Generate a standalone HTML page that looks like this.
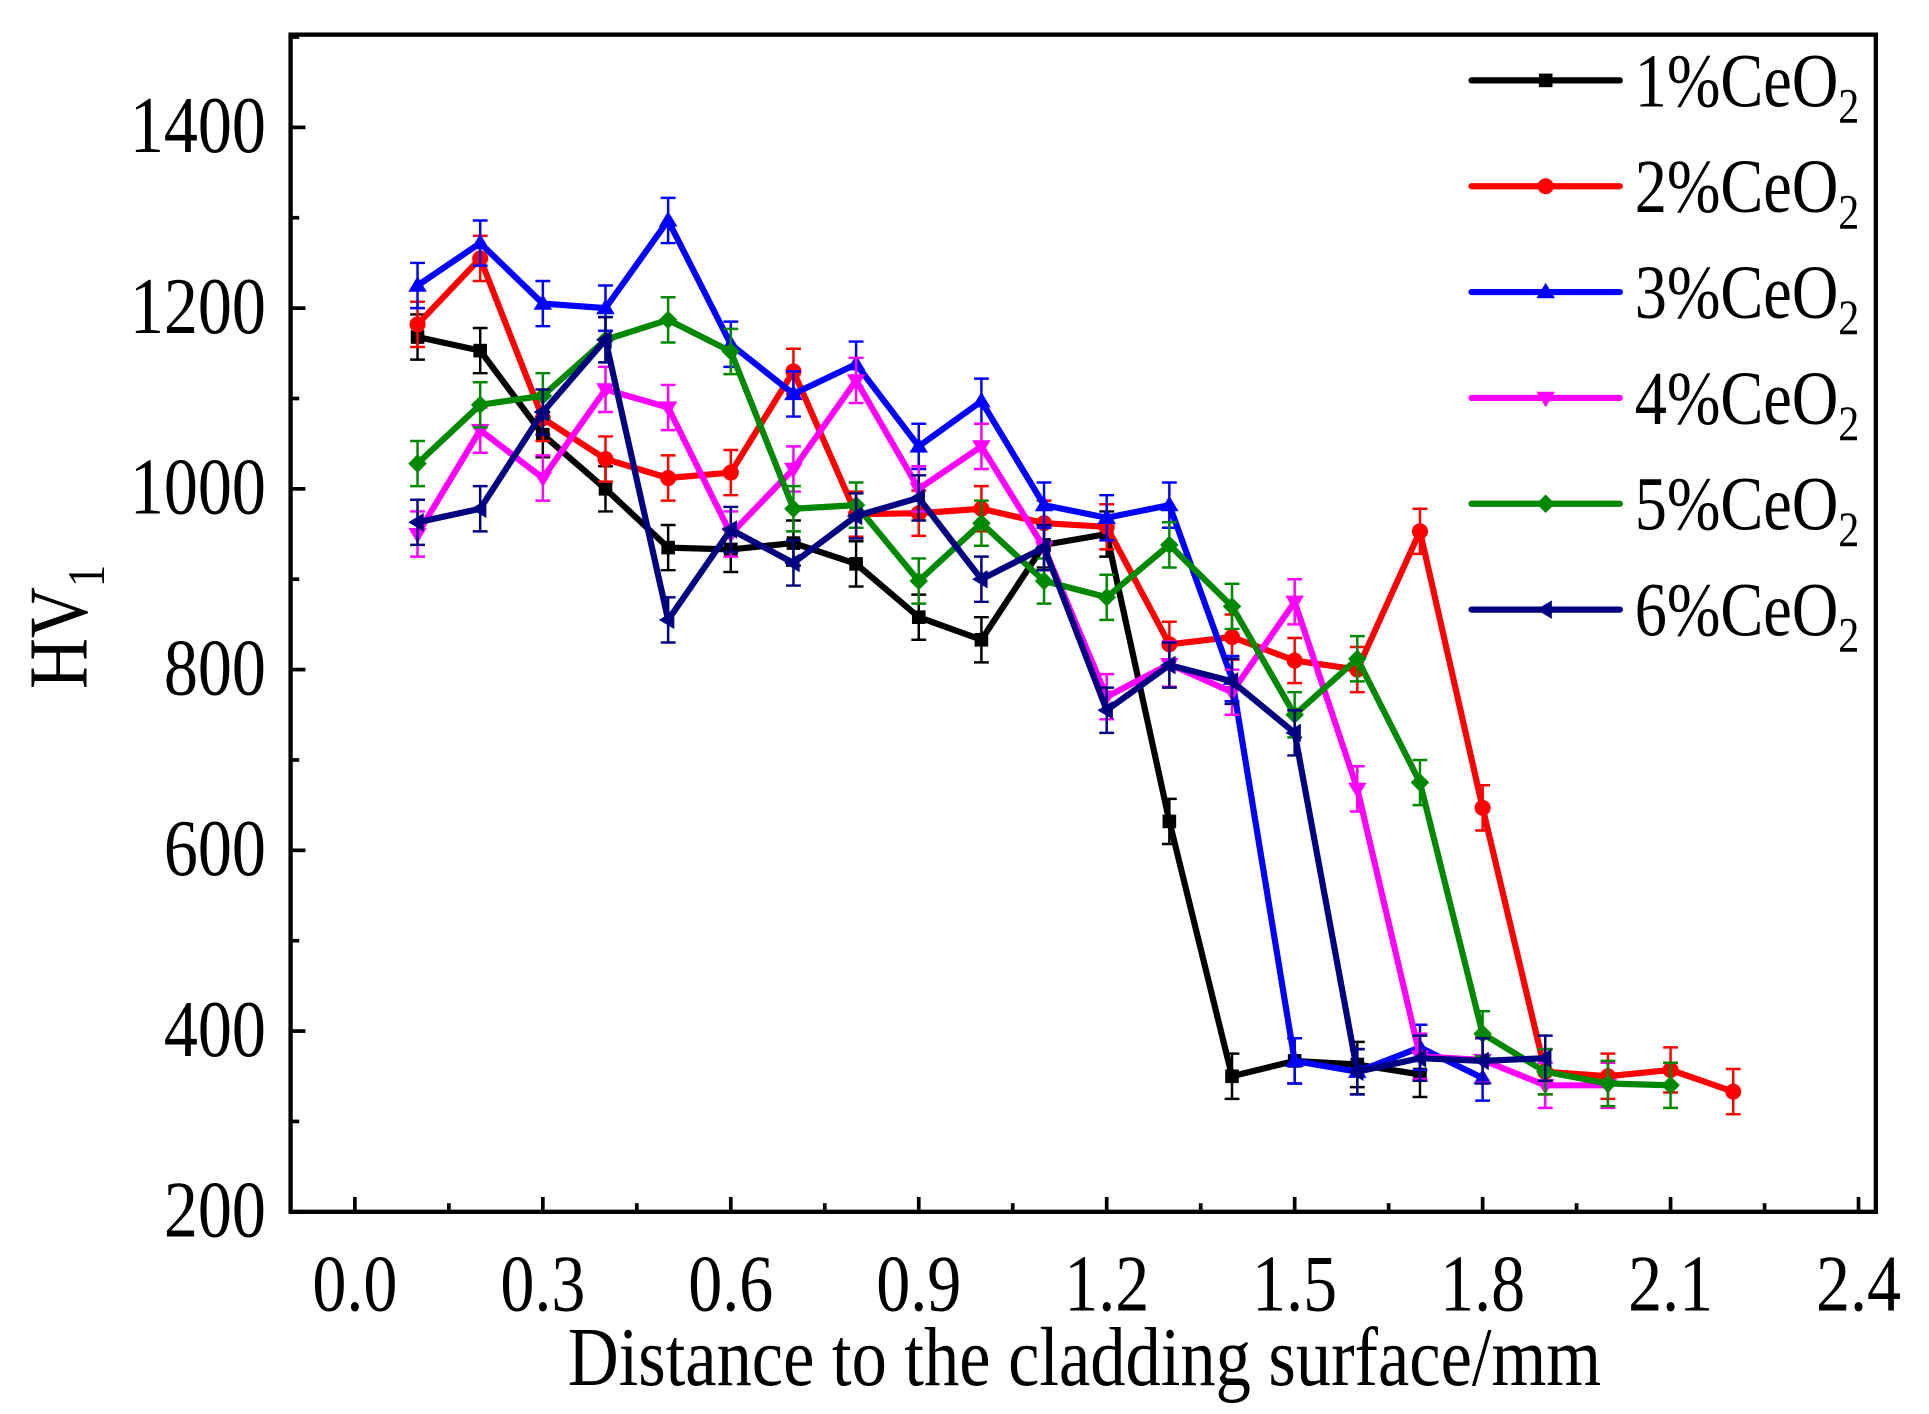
<!DOCTYPE html>
<html><head><meta charset="utf-8"><style>html,body{margin:0;padding:0;background:#fff}svg{display:block}text{font-family:"Liberation Serif",serif;fill:#000}</style></head>
<body>
<svg id="s" width="1929" height="1414" viewBox="0 0 1560 1143.5" xmlns="http://www.w3.org/2000/svg"></svg>
<script>
const s=document.getElementById('s');
const X=v=>287+v/0.1*50.667, Y=v=>980-(v-200)*0.73083;
let h='';
const T=(x,y,fs,anchor,content,rot)=>`<g transform="translate(${x},${y})${rot?' rotate(-90)':''} scale(1,1.18)"><text x="0" y="0" font-size="${fs}" text-anchor="${anchor}">${content}</text></g>`;
const data=[
['#000','sq',[1168,1153,1060,1000,935,933,940,917,858,833,938,950,632,350,367,363,352]],
['#f00','ci',[1182,1255,1078,1033,1012,1018,1130,972,973,978,962,958,828,836,810,800,953,647,355,350,357,333]],
['#00f','up',[1225,1272,1205,1200,1297,1160,1105,1138,1047,1097,982,968,982,790,367,355,382,348]],
['#f0f','dn',[950,1065,1012,1110,1090,950,1022,1120,1000,1047,935,770,806,775,875,668,372,368,340,340]],
['#080','di',[1028,1093,1103,1165,1187,1152,978,982,898,962,898,880,938,870,750,812,675,397,355,342,340]],
['#000080','lt',[963,978,1085,1165,855,955,918,970,990,900,935,755,805,787,730,355,370,367,370]]];
function mk(t,x,y,c){const r=7.5;
 if(t=='sq')return `<rect x="${x-5.5}" y="${y-5.5}" width="11" height="11" fill="${c}"/>`;
 if(t=='ci')return `<circle cx="${x}" cy="${y}" r="6.5" fill="${c}"/>`;
 if(t=='up')return `<polygon points="${x},${y-r} ${x-r},${y+5} ${x+r},${y+5}" fill="${c}"/>`;
 if(t=='dn')return `<polygon points="${x},${y+r} ${x-r},${y-5} ${x+r},${y-5}" fill="${c}"/>`;
 if(t=='di')return `<polygon points="${x},${y-r} ${x+r},${y} ${x},${y+r} ${x-r},${y}" fill="${c}"/>`;
 return `<polygon points="${x-r},${y} ${x+5},${y-r} ${x+5},${y+r}" fill="${c}"/>`;}
data.forEach(([c,t,v])=>{
 let p=v.map((d,i)=>X((i+1)*0.1)+','+Y(d)).join(' ');
 v.forEach((d,i)=>{const x=X((i+1)*0.1),y1=Y(d+25),y2=Y(d-25);
  h+=`<path d="M${x},${y1}V${y2}M${x-6},${y1}H${x+6}M${x-6},${y2}H${x+6}" stroke="${c}" stroke-width="2" fill="none"/>`;});
 h+=`<polyline points="${p}" fill="none" stroke="${c}" stroke-width="5" stroke-linejoin="round"/>`;
 v.forEach((d,i)=>h+=mk(t,X((i+1)*0.1),Y(d),c));
});
h+=`<rect x="235" y="28" width="1282" height="952" fill="none" stroke="#000" stroke-width="3.5"/>`;
for(let v=200;v<=1500;v+=100){const y=Y(v),L=(v%200==0)?12:7;h+=`<line x1="235" x2="${235+L}" y1="${y}" y2="${y}" stroke="#000" stroke-width="3"/>`;
 if(v%200==0)h+=T(215,y+20,55,'end',v);}
for(let k=0;k<=16;k++){const v=k*0.15,x=X(v),L=(k%2==0)?12:7;h+=`<line x1="${x}" x2="${x}" y1="980" y2="${980-L}" stroke="#000" stroke-width="3"/>`;
 if(k%2==0)h+=T(x,1060,55,'middle',v.toFixed(1));}
h+=T(877,1120,57,'middle','Distance to the cladding surface/mm');
h+=T(70,507,57,'middle','HV<tspan font-size="36" dy="12">1</tspan>',true);
data.forEach(([c,t],i)=>{const y=65+i*85.6;
 h+=`<line x1="1190" x2="1310" y1="${y}" y2="${y}" stroke="${c}" stroke-width="5" stroke-linecap="round"/>`+mk(t,1250,y,c);
 h+=T(1322,y+21,52,'start',`${i+1}%CeO<tspan font-size="34" dy="11">2</tspan>`);});
s.innerHTML=h;
</script>
</body></html>
